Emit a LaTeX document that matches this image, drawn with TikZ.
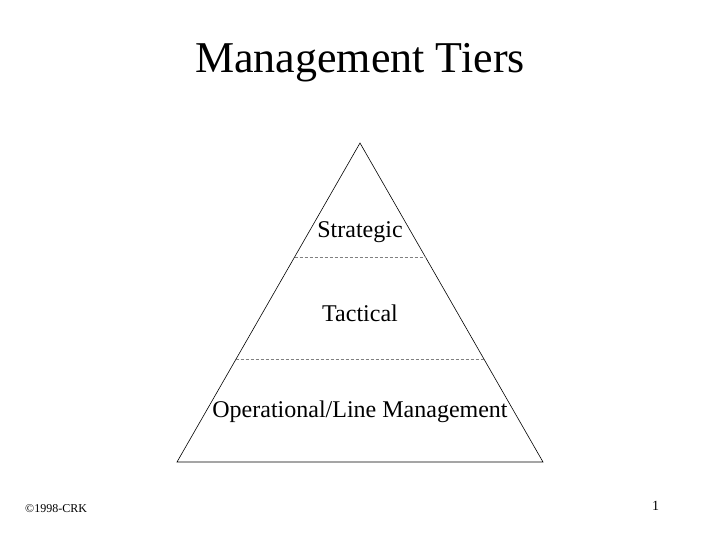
\documentclass[tikz,border=0pt]{standalone}
\usepackage{fontspec}
\setmainfont{Liberation Serif}
\begin{document}
\begin{tikzpicture}[x=1pt,y=-1pt,
  edge/.style={draw=black,line width=0.6pt},
  divider/.style={draw=gray,line width=0.8pt,dash pattern=on 3pt off 2pt},
  tier/.style={anchor=base,inner sep=0pt,font=\fontsize{24}{28}\selectfont},
  titletext/.style={anchor=base,inner sep=0pt,font=\fontsize{44}{50}\selectfont},
  foot/.style={anchor=base west,inner sep=0pt,font=\fontsize{12}{14}\selectfont}]
\useasboundingbox[fill=white] (0,0) rectangle (720,540);
\node[titletext] (title) at (360,73) {Management Tiers};
\coordinate (apex) at (360,143);
\coordinate (bl) at (177,462);
\coordinate (br) at (543,462);
\draw[edge] (apex) -- (bl) -- (br) -- cycle;
\coordinate (d1l) at (294.6,257);
\coordinate (d1r) at (425.4,257);
\coordinate (d2l) at (235.5,359);
\coordinate (d2r) at (484.5,359);
\draw[divider] (d1l) -- (d1r);
\draw[divider] (d2l) -- (d2r);
\node[tier] (strategic) at (360,237) {Strategic};
\node[tier] (tactical) at (360,321) {Tactical};
\node[tier] (operational) at (360,417) {Operational/Line Management};
\node[foot] (copy) at (25,512) {\textcopyright1998-CRK};
\node[foot,font=\fontsize{14}{16}\selectfont] (page) at (652,510) {1};
\end{tikzpicture}
\end{document}
